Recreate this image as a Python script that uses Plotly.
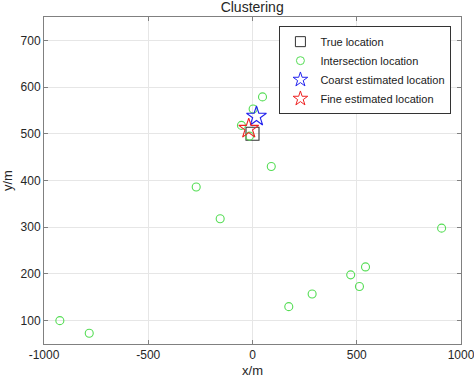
import plotly.graph_objects as go

# Data
true_x = [0]
true_y = [500]
inter_x = [-924, -783, -270, -155, -53, -14, 3, 48, 90, 174, 286, 471, 513, 542, 907]
inter_y = [100, 73, 386, 318, 518, 495, 553, 579, 430, 130, 157, 198, 173, 215, 298]
coarse_x = [19]
coarse_y = [537]
fine_x = [-18]
fine_y = [511]

x_ticks = [-1000, -500, 0, 500, 1000]
y_ticks = [100, 200, 300, 400, 500, 600, 700]

names = ["True location", "Intersection location", "Coarst estimated location", "Fine estimated location"]
symbols = ["square-open", "circle-open", "star-open", "star-open"]
colors = ["#333333", "#55dd55", "#2222ee", "#ee2222"]
sizes = [13, 8, 15, 15]
legend_sizes = [10, 8, 11, 11]
xs = [true_x, inter_x, coarse_x, fine_x]
ys = [true_y, inter_y, coarse_y, fine_y]

fig = go.Figure()
for i in range(4):
    fig.add_trace(go.Scatter(x=xs[i], y=ys[i], mode="markers", name=names[i], showlegend=False,
                             marker=dict(symbol=symbols[i], size=sizes[i], color=colors[i],
                                         line=dict(width=1.1))))
# legend entries with smaller symbols (as in the reference legend)
for i in range(4):
    fig.add_trace(go.Scatter(x=[None], y=[None], mode="markers", name=names[i], showlegend=True,
                             marker=dict(symbol=symbols[i], size=legend_sizes[i], color=colors[i],
                                         line=dict(width=1))))

axis_common = dict(showgrid=True, gridcolor="#e6e6e6", gridwidth=1, zeroline=False,
                   showline=True, linecolor="#808080", linewidth=1, mirror="ticks",
                   ticks="inside", ticklen=4, tickcolor="#808080", automargin=False,
                   ticklabeloverflow="allow",
                   tickfont=dict(family="Liberation Sans, Arial", size=12, color="#262626"))

fig.update_layout(
    width=474, height=382,
    margin=dict(l=44, r=13, t=17, b=38),
    paper_bgcolor="white", plot_bgcolor="white",
    title=dict(text="Clustering", x=0.532, xanchor="center", y=0.995, yanchor="top",
               font=dict(family="Liberation Sans, Arial", size=14, color="#262626")),
    xaxis=dict(range=[-1000, 1000], tickvals=x_ticks, ticktext=[str(v) for v in x_ticks],
               title=dict(text="x/m", standoff=4, font=dict(family="Liberation Sans, Arial", size=13, color="#262626")),
               **axis_common),
    yaxis=dict(range=[50, 750], tickvals=y_ticks, ticktext=[str(v) for v in y_ticks],
               title=dict(text="y/m", standoff=6, font=dict(family="Liberation Sans, Arial", size=13, color="#262626")),
               **axis_common),
    legend=dict(x=0.977, xanchor="right", y=0.972, yanchor="top",
                bgcolor="white", bordercolor="#333333", borderwidth=1,
                font=dict(family="Liberation Sans, Arial", size=11, color="#1a1a1a"),
                tracegroupgap=0, itemsizing="trace"),
    showlegend=True,
)

fig.write_html("out.html", config={"displayModeBar": False},
               post_script="document.body.style.margin='0';")
